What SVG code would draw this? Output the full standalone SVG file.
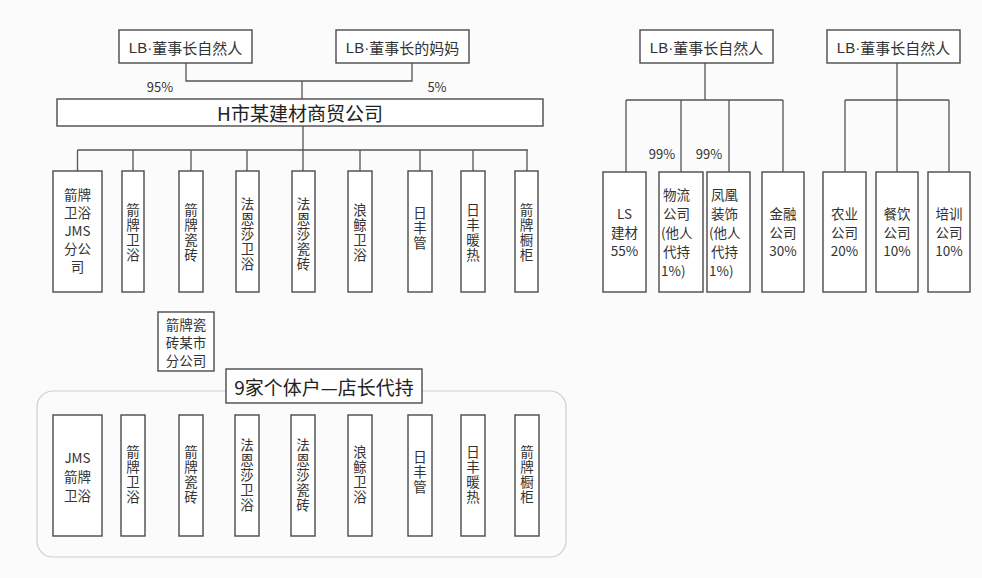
<svg xmlns="http://www.w3.org/2000/svg" width="982" height="578" viewBox="0 0 982 578">
<style>
.box{fill:#fff;stroke:#4a4a4a;stroke-width:1.4}
.ln{fill:none;stroke:#555;stroke-width:1.3}
.t{font-family:"Noto Sans CJK SC","Liberation Sans",sans-serif;font-size:13.5px;fill:#333;text-anchor:middle;dominant-baseline:central}
.big{font-size:19px;fill:#222}
.mid{font-size:15px}
.lat{font-family:"Liberation Sans",sans-serif}
.pct{font-size:13px}
.st{text-anchor:start}
</style>
<rect width="982" height="578" fill="#fbfbfb"/>
<g id="connectors">
<path class="ln" d="M186,63V81H412V63M302,81V99M303,126V171M77.5,150H528M77.5,150V171M133,150V171M191,150V171M247,150V171M360,150V171M420,150V171M473,150V171M527,150V171"/>
<path class="ln" d="M705,63V100M626,100H783M626,100V172M681,100V172M729,100V172M783,100V172"/>
<path class="ln" d="M897,63V172M845,100H949M845,100V172M949,100V172"/>
</g>
<g id="labels">
<text class="t pct" x="160" y="86">95%</text>
<text class="t pct" x="437" y="86">5%</text>
<text class="t pct" x="662" y="153">99%</text>
<text class="t pct" x="709" y="153">99%</text>
</g>
<g id="n-lb1"><rect class="box" x="119" y="30" width="133" height="33"/><text class="t mid" x="185.5" y="47"><tspan class="lat">LB·</tspan>董事长自然人</text></g>
<g id="n-lb2"><rect class="box" x="336" y="30" width="133" height="33"/><text class="t mid" x="402.5" y="47"><tspan class="lat">LB·</tspan>董事长的妈妈</text></g>
<g id="n-h"><rect class="box" x="57" y="99" width="486" height="27"/><text class="t big" x="300" y="112">H市某建材商贸公司</text></g>
<g id="n-t1"><rect class="box" x="53" y="171" width="49" height="121"/><text class="t"><tspan x="77.5" y="194">箭牌</tspan><tspan x="77.5" y="212">卫浴</tspan><tspan x="77.5" y="230">JMS</tspan><tspan x="77.5" y="248">分公</tspan><tspan x="77.5" y="266">司</tspan></text></g>
<g id="n-t2"><rect class="box" x="122" y="171" width="22" height="121"/><text class="t"><tspan x="133" y="209">箭</tspan><tspan x="133" y="224">牌</tspan><tspan x="133" y="239">卫</tspan><tspan x="133" y="254">浴</tspan></text></g>
<g id="n-t3"><rect class="box" x="179" y="171" width="24" height="121"/><text class="t"><tspan x="191" y="209">箭</tspan><tspan x="191" y="224">牌</tspan><tspan x="191" y="239">瓷</tspan><tspan x="191" y="254">砖</tspan></text></g>
<g id="n-t4"><rect class="box" x="236" y="171" width="23" height="121"/><text class="t"><tspan x="247.5" y="203">法</tspan><tspan x="247.5" y="218">恩</tspan><tspan x="247.5" y="233">莎</tspan><tspan x="247.5" y="248">卫</tspan><tspan x="247.5" y="263">浴</tspan></text></g>
<g id="n-t5"><rect class="box" x="292" y="171" width="23" height="121"/><text class="t"><tspan x="303.5" y="203">法</tspan><tspan x="303.5" y="218">恩</tspan><tspan x="303.5" y="233">莎</tspan><tspan x="303.5" y="248">瓷</tspan><tspan x="303.5" y="263">砖</tspan></text></g>
<g id="n-t6"><rect class="box" x="348" y="171" width="24" height="121"/><text class="t"><tspan x="360" y="209">浪</tspan><tspan x="360" y="224">鲸</tspan><tspan x="360" y="239">卫</tspan><tspan x="360" y="254">浴</tspan></text></g>
<g id="n-t7"><rect class="box" x="408" y="171" width="24" height="121"/><text class="t"><tspan x="420" y="212">日</tspan><tspan x="420" y="227">丰</tspan><tspan x="420" y="242">管</tspan></text></g>
<g id="n-t8"><rect class="box" x="461" y="171" width="24" height="121"/><text class="t"><tspan x="473" y="209">日</tspan><tspan x="473" y="224">丰</tspan><tspan x="473" y="239">暖</tspan><tspan x="473" y="254">热</tspan></text></g>
<g id="n-t9"><rect class="box" x="515" y="171" width="23" height="121"/><text class="t"><tspan x="526.5" y="209">箭</tspan><tspan x="526.5" y="224">牌</tspan><tspan x="526.5" y="239">橱</tspan><tspan x="526.5" y="254">柜</tspan></text></g>
<g id="n-branch"><rect class="box" x="158" y="312" width="56" height="59"/><text class="t"><tspan x="186" y="324">箭牌瓷</tspan><tspan x="186" y="342">砖某市</tspan><tspan x="186" y="360">分公司</tspan></text></g>
<g id="n-group"><rect x="37" y="391" width="529" height="166" rx="16" fill="none" stroke="#cfcfcf" stroke-width="1.2"/></g>
<g id="n-group-title"><rect class="box" x="226" y="369" width="196" height="34"/><text class="t big" x="324" y="386">9家个体户—店长代持</text></g>
<g id="n-b1"><rect class="box" x="53" y="415" width="49" height="121"/><text class="t"><tspan x="77.5" y="457">JMS</tspan><tspan x="77.5" y="476">箭牌</tspan><tspan x="77.5" y="495">卫浴</tspan></text></g>
<g id="n-b2"><rect class="box" x="121" y="415" width="24" height="121"/><text class="t"><tspan x="133" y="451">箭</tspan><tspan x="133" y="466">牌</tspan><tspan x="133" y="481">卫</tspan><tspan x="133" y="496">浴</tspan></text></g>
<g id="n-b3"><rect class="box" x="179" y="415" width="24" height="121"/><text class="t"><tspan x="191" y="451">箭</tspan><tspan x="191" y="466">牌</tspan><tspan x="191" y="481">瓷</tspan><tspan x="191" y="496">砖</tspan></text></g>
<g id="n-b4"><rect class="box" x="235" y="415" width="24" height="121"/><text class="t"><tspan x="247" y="444">法</tspan><tspan x="247" y="459">恩</tspan><tspan x="247" y="474">莎</tspan><tspan x="247" y="489">卫</tspan><tspan x="247" y="504">浴</tspan></text></g>
<g id="n-b5"><rect class="box" x="291" y="415" width="24" height="121"/><text class="t"><tspan x="303" y="444">法</tspan><tspan x="303" y="459">恩</tspan><tspan x="303" y="474">莎</tspan><tspan x="303" y="489">瓷</tspan><tspan x="303" y="504">砖</tspan></text></g>
<g id="n-b6"><rect class="box" x="348" y="415" width="24" height="121"/><text class="t"><tspan x="360" y="451">浪</tspan><tspan x="360" y="466">鲸</tspan><tspan x="360" y="481">卫</tspan><tspan x="360" y="496">浴</tspan></text></g>
<g id="n-b7"><rect class="box" x="408" y="415" width="24" height="121"/><text class="t"><tspan x="420" y="456">日</tspan><tspan x="420" y="471">丰</tspan><tspan x="420" y="486">管</tspan></text></g>
<g id="n-b8"><rect class="box" x="461" y="415" width="24" height="121"/><text class="t"><tspan x="473" y="451">日</tspan><tspan x="473" y="466">丰</tspan><tspan x="473" y="481">暖</tspan><tspan x="473" y="496">热</tspan></text></g>
<g id="n-b9"><rect class="box" x="515" y="415" width="24" height="121"/><text class="t"><tspan x="527" y="451">箭</tspan><tspan x="527" y="466">牌</tspan><tspan x="527" y="481">橱</tspan><tspan x="527" y="496">柜</tspan></text></g>
<g id="n-lb3"><rect class="box" x="640" y="30" width="133" height="33"/><text class="t mid" x="706.5" y="47"><tspan class="lat">LB·</tspan>董事长自然人</text></g>
<g id="n-lb4"><rect class="box" x="827" y="30" width="133" height="33"/><text class="t mid" x="893.5" y="47"><tspan class="lat">LB·</tspan>董事长自然人</text></g>
<g id="n-ls"><rect class="box" x="603" y="172" width="43" height="120"/><text class="t"><tspan x="624.5" y="213">LS</tspan><tspan x="624.5" y="232">建材</tspan><tspan x="624.5" y="250">55%</tspan></text></g>
<g id="n-wl"><rect class="box" x="659" y="172" width="44" height="120"/><text class="t st"><tspan x="663" y="194">物流</tspan><tspan x="663" y="213">公司</tspan><tspan x="661" y="232">(他人</tspan><tspan x="663" y="251">代持</tspan><tspan x="661" y="270">1%)</tspan></text></g>
<g id="n-fh"><rect class="box" x="707" y="172" width="43" height="120"/><text class="t st"><tspan x="711" y="194">凤凰</tspan><tspan x="711" y="213">装饰</tspan><tspan x="709" y="232">(他人</tspan><tspan x="711" y="251">代持</tspan><tspan x="709" y="270">1%)</tspan></text></g>
<g id="n-jr"><rect class="box" x="762" y="172" width="42" height="120"/><text class="t"><tspan x="783" y="213">金融</tspan><tspan x="783" y="232">公司</tspan><tspan x="783" y="250">30%</tspan></text></g>
<g id="n-ny"><rect class="box" x="823" y="172" width="43" height="120"/><text class="t"><tspan x="844.5" y="213">农业</tspan><tspan x="844.5" y="232">公司</tspan><tspan x="844.5" y="250">20%</tspan></text></g>
<g id="n-cy"><rect class="box" x="876" y="172" width="42" height="120"/><text class="t"><tspan x="897" y="213">餐饮</tspan><tspan x="897" y="232">公司</tspan><tspan x="897" y="250">10%</tspan></text></g>
<g id="n-px"><rect class="box" x="928" y="172" width="42" height="120"/><text class="t"><tspan x="949" y="213">培训</tspan><tspan x="949" y="232">公司</tspan><tspan x="949" y="250">10%</tspan></text></g>
</svg>
